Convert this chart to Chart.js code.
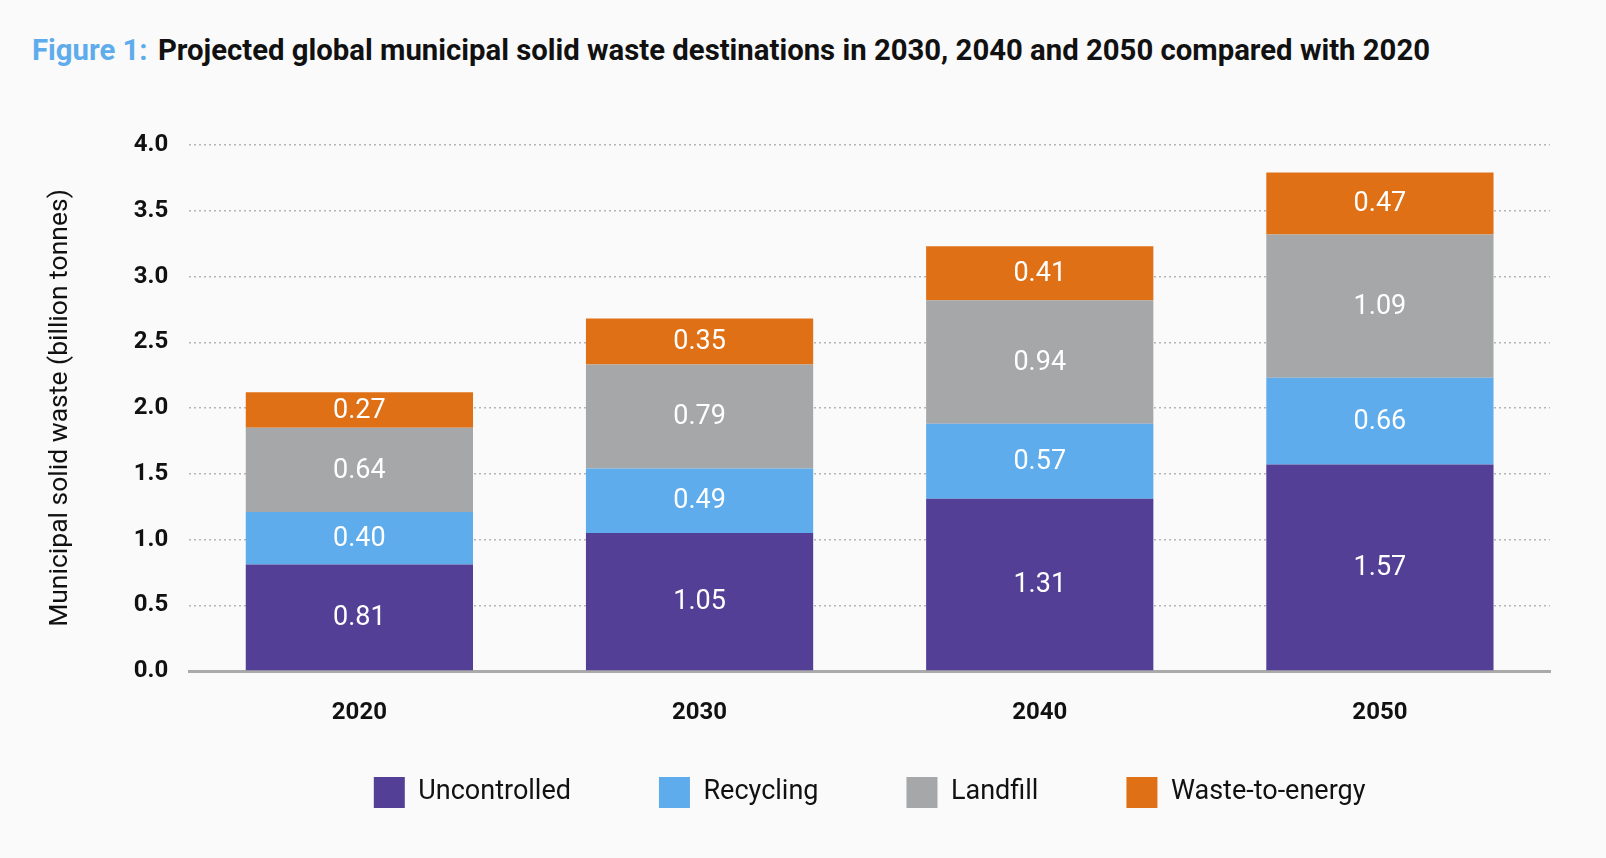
<!DOCTYPE html>
<html lang="en">
<head>
<meta charset="UTF-8">
<title>Municipal solid waste</title>
<style>
  html, body { margin: 0; padding: 0; background: #fafafa; }
  #wrap { position: relative; width: 1606px; height: 858px; }
  #title { position: absolute; left: 32px; top: 33px; font-family: Roboto, sans-serif; font-weight: bold; font-size: 29.3px; color: #111; white-space: nowrap; }
  #title span { color: #5eacec; margin-right: 3px; }
  canvas { position: absolute; left: 0; top: 0; }
</style>
</head>
<body>
<div id="wrap">
  <div id="title"><span>Figure 1:</span> Projected global municipal solid waste destinations in 2030, 2040 and 2050 compared with 2020</div>
  <canvas id="chart" width="1606" height="858"></canvas>
</div>
<script src="https://cdn.jsdelivr.net/npm/chart.js"></script>
<script>
var years = ['2020', '2030', '2040', '2050']
var uncontrolled = [0.81, 1.05, 1.31, 1.57]
var recycling = [0.40, 0.49, 0.57, 0.66]
var landfill = [0.64, 0.79, 0.94, 1.09]
var wasteToEnergy = [0.27, 0.35, 0.41, 0.47]
var yTicks = [0, 0.5, 1, 1.5, 2, 2.5, 3, 3.5, 4]

// draws the value in the middle of each segment
var segmentLabels = {
  id: 'segmentLabels',
  afterDatasetsDraw(chart) {
    var ctx = chart.ctx
    ctx.save()
    ctx.fillStyle = '#fff'
    ctx.font = '27px Roboto'
    ctx.textAlign = 'center'
    ctx.textBaseline = 'middle'
    chart.data.datasets.forEach((ds, i) => {
      chart.getDatasetMeta(i).data.forEach((bar, j) => {
        var mid = (bar.y + bar.base) / 2
        ctx.fillText(ds.data[j].toFixed(2), bar.x, mid + 1)
      })
    })
    ctx.restore()
  }
}

var ctx = document.getElementById('chart')
var chart = new Chart(ctx, {
  type: 'bar',
  data: {
    labels: years,
    datasets: [
      { label: 'Uncontrolled', data: uncontrolled, backgroundColor: '#533f96' },
      { label: 'Recycling', data: recycling, backgroundColor: '#5eacec' },
      { label: 'Landfill', data: landfill, backgroundColor: '#a6a7a8' },
      { label: 'Waste-to-energy', data: wasteToEnergy, backgroundColor: '#df7016' }
    ]
  },
  options: {
    responsive: false,
    animation: false,
    datasets: { bar: { barPercentage: 0.668, categoryPercentage: 1 } },
    layout: { padding: { top: 145, left: 40, right: 56, bottom: 40 } },
    scales: {
      x: {
        stacked: true,
        grid: { display: false, drawTicks: false },
        border: { display: true, color: '#aaa', width: 3 },
        // mirrored + negative padding puts the labels below the axis without clipping,
        // so the axis box can stay short and the legend sits close
        ticks: { color: '#111', mirror: true, padding: -56, font: { family: 'Roboto', weight: 'bold', size: 24 } },
        afterFit(axis) { axis.height = 18 }
      },
      y: {
        stacked: true,
        min: 0,
        max: 4,
        afterBuildTicks(axis) { axis.ticks = yTicks.map(v => ({ value: v })) },
        grid: { color: '#b5b5b5', lineWidth: 1.5, drawTicks: false },
        border: { display: false, dash: [2, 3] },
        ticks: {
          color: '#111',
          padding: 21,
          font: { family: 'Roboto', weight: 'bold', size: 24 },
          callback: v => Number(v).toFixed(1)
        },
        title: {
          display: true,
          text: 'Municipal solid waste (billion tonnes)',
          color: '#111',
          padding: { bottom: 37 },
          font: { family: 'Roboto', size: 26.5 }
        }
      }
    },
    plugins: {
      legend: {
        position: 'bottom',
        fullSize: false,
        labels: {
          boxWidth: 31,
          boxHeight: 31,
          padding: 88,
          color: '#111',
          font: { family: 'Roboto', size: 27 }
        }
      },
      tooltip: { enabled: false }
    }
  },
  plugins: [segmentLabels]
})
</script>
</body>
</html>
